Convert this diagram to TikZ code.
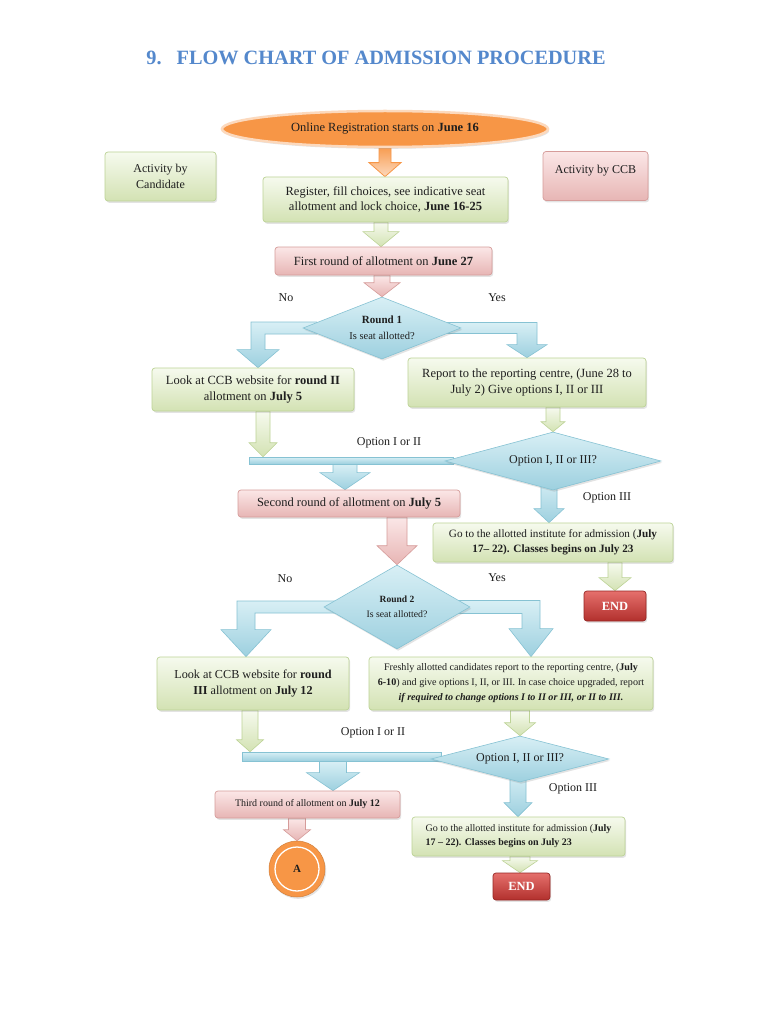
\documentclass[tikz,border=0pt]{standalone}
\usepackage{fontspec}
\setmainfont{Liberation Serif}
\usetikzlibrary{shapes.geometric,shadows,calc,backgrounds}
\definecolor{titleblue}{RGB}{84,136,204}
\definecolor{gtop}{HTML}{F6FAEE}
\definecolor{gbot}{HTML}{D3E2B3}
\definecolor{gline}{HTML}{BDD396}
\definecolor{ptop}{HTML}{FBE7E7}
\definecolor{pbot}{HTML}{E7B5B4}
\definecolor{pline}{HTML}{D69C9A}
\definecolor{btop}{HTML}{D8EFF5}
\definecolor{bbot}{HTML}{9DD0DF}
\definecolor{bline}{HTML}{86C2D3}
\definecolor{orangeC}{HTML}{F79646}
\definecolor{orangeL}{HTML}{FCD9BD}
\definecolor{etop}{HTML}{E5706C}
\definecolor{ebot}{HTML}{B2302D}
\definecolor{eline}{HTML}{962623}
\definecolor{txt}{HTML}{1E1E1E}
\newcommand\myfs[2]{\fontsize{#1}{#2}\selectfont}
% vertical block arrow: style, top point, tip point, half stem, half head, head length
\newcommand\varr[6]{\path[#1] let \p1=#2, \p2=#3 in
  (\x2-#4pt,\y1) -- (\x2+#4pt,\y1) -- (\x2+#4pt,\y2+#6pt) -- (\x2+#5pt,\y2+#6pt) -- (\x2,\y2)
  -- (\x2-#5pt,\y2+#6pt) -- (\x2-#4pt,\y2+#6pt) -- cycle;}
% L-shaped block arrow going left then down: style, start, tip, half bar, half stem, half head, head length
\newcommand\larrL[7]{\path[#1] let \p1=#2, \p2=#3 in
  (\x1,\y1+#4pt) -- (\x2-#5pt,\y1+#4pt) -- (\x2-#5pt,\y2+#7pt) -- (\x2-#6pt,\y2+#7pt) -- (\x2,\y2)
  -- (\x2+#6pt,\y2+#7pt) -- (\x2+#5pt,\y2+#7pt) -- (\x2+#5pt,\y1-#4pt) -- (\x1,\y1-#4pt) -- cycle;}
% L-shaped block arrow going right then down
\newcommand\larrR[7]{\path[#1] let \p1=#2, \p2=#3 in
  (\x1,\y1+#4pt) -- (\x2+#5pt,\y1+#4pt) -- (\x2+#5pt,\y2+#7pt) -- (\x2+#6pt,\y2+#7pt) -- (\x2,\y2)
  -- (\x2-#6pt,\y2+#7pt) -- (\x2-#5pt,\y2+#7pt) -- (\x2-#5pt,\y1-#4pt) -- (\x1,\y1-#4pt) -- cycle;}
\begin{document}
\begin{tikzpicture}[x=1pt,y=-1pt,
  font=\myfs{12.5}{15.5}, text=txt,
  shad/.style={drop shadow={opacity=0.22,shadow xshift=1.2pt,shadow yshift=-1.8pt}},
  gbox/.style={shad,draw=gline,line width=0.7pt,rounded corners=3pt,top color=gtop,bottom color=gbot,align=center,inner sep=0pt},
  pbox/.style={shad,draw=pline,line width=0.7pt,rounded corners=3pt,top color=ptop,bottom color=pbot,align=center,inner sep=0pt},
  ebox/.style={shad,draw=eline,line width=0.7pt,rounded corners=3pt,top color=etop,bottom color=ebot,inner sep=0pt,text=white,font=\bfseries\myfs{12.5}{14}},
  diam/.style={diamond,shad,draw=bline,line width=0.6pt,top color=btop,bottom color=bbot,inner sep=0pt,align=center},
  hbar/.style={rectangle,draw=bline,line width=0.5pt,top color=btop,bottom color=bbot,inner sep=0pt},
  lbl/.style={inner sep=0pt,font=\myfs{12}{14}},
  garr/.style={draw=gline,line width=0.6pt,top color=gtop,bottom color=gbot},
  barr/.style={draw=bline,line width=0.6pt,top color=btop,bottom color=bbot},
  parr/.style={draw=pline,line width=0.6pt,top color=ptop,bottom color=pbot},
  oarr/.style={draw=orangeC,line width=0.8pt,top color=orangeC,bottom color=orangeL}]
\useasboundingbox (0,0) rectangle (768,1024);

% title
\node[lbl,text=titleblue,font=\bfseries\myfs{20.3}{24}] (title) at (376,58) {9.\hspace{15pt}FLOW CHART OF ADMISSION PROCEDURE};

% top part
\node[ellipse,shad,minimum width=326pt,minimum height=36pt,fill=orangeC,draw=orangeL,line width=2.5pt,inner sep=0pt] (start) at (385,129) {Online Registration starts on \textbf{June 16}};
\node[gbox,minimum width=111pt,minimum height=49pt,font=\myfs{12}{15.5}] (cand) at (160.5,176.5) {Activity by\\Candidate};
\node[pbox,minimum width=105pt,minimum height=49pt,text depth=14pt,font=\myfs{12}{15.5}] (ccb) at (595.5,176) {Activity by CCB};
\node[gbox,minimum width=245pt,minimum height=45pt] (reg) at (385.5,199.5) {Register, fill choices, see indicative seat\\allotment and lock choice, \textbf{June 16-25}};
\node[pbox,minimum width=217pt,minimum height=28pt] (first) at (383.5,261) {First round of allotment on \textbf{June 27}};

% round 1
\node[lbl] (no1) at (286,298) {No};
\node[lbl] (yes1) at (497,298) {Yes};
\node[diam,minimum width=158pt,minimum height=62pt,aspect=2.55] (d1) at (382,328) {{\bfseries\myfs{11}{13}Round 1}\\{\myfs{10.5}{12.5}Is seat allotted?}};
\node[gbox,minimum width=202pt,minimum height=43pt] (look1) at (253,389.5) {Look at CCB website for \textbf{round II}\\allotment on \textbf{July 5}};
\node[gbox,minimum width=238pt,minimum height=49pt] (rep) at (527,382.5) {Report to the reporting centre, (June 28 to\\July 2) Give options I, II or III};
\node[lbl] (opt12a) at (389,443) {Option I or II};
\node[hbar,minimum width=204pt,minimum height=7pt] (bar1) at (351,460.5) {};
\node[diam,minimum width=216pt,minimum height=58pt,aspect=3.7,font=\myfs{12}{14}] (d2) at (553,461) {Option I, II or III?};
\node[pbox,minimum width=222pt,minimum height=27pt] (second) at (349,503.5) {Second round of allotment on \textbf{July 5}};
\node[lbl] (opt3a) at (607,498) {Option III};
\node[gbox,minimum width=240pt,minimum height=39pt,font=\myfs{11.2}{15}] (go1) at (553,542.5) {Go to the allotted institute for admission (\textbf{July}\\\textbf{17– 22). Classes begins on July 23}};
\node[ebox,minimum width=62pt,minimum height=30pt] (end1) at (615,606) {END};

% round 2
\node[lbl] (no2) at (285,579) {No};
\node[lbl] (yes2) at (497,578) {Yes};
\node[diam,minimum width=146pt,minimum height=84pt,aspect=1.74] (r2) at (397,607) {{\bfseries\myfs{9.5}{12}Round 2}\\{\myfs{9.8}{12}Is seat allotted?}};
\node[gbox,minimum width=192pt,minimum height=53pt,font=\myfs{12.2}{15.5}] (look2) at (253,683.5) {Look at CCB website for \textbf{round}\\\textbf{III} allotment on \textbf{July 12}};
\node[gbox,minimum width=284pt,minimum height=53pt,font=\myfs{10.1}{15}] (fresh) at (511,683.5) {Freshly allotted candidates report to the reporting centre, (\textbf{July}\\\textbf{6-10}) and give options I, II, or III. In case choice upgraded, report\\\textbf{\textit{if required to change options I to II or III, or II to III.}}};
\node[lbl] (opt12b) at (373,733) {Option I or II};
\node[hbar,minimum width=199pt,minimum height=9pt] (bar2) at (341.5,756.5) {};
\node[diam,minimum width=178pt,minimum height=46pt,aspect=3.87,font=\myfs{12}{14}] (d3) at (520,759) {Option I, II or III?};
\node[pbox,minimum width=185pt,minimum height=27pt,font=\myfs{10}{12}] (third) at (307.5,804.5) {Third round of allotment on \textbf{July 12}};
\node[lbl] (opt3b) at (573,789) {Option III};
\node[circle,shad,fill=orangeC,draw=orangeC!85!black,line width=0.5pt,minimum size=56pt,inner sep=0pt,font=\bfseries\myfs{11}{13}] (A) at (297,869) {A};
\draw[white,line width=1.3pt] (A.center) circle[radius=22];
\node[gbox,minimum width=213pt,minimum height=39pt,align=left,font=\myfs{10}{14}] (go2) at (518.5,836.5) {Go to the allotted institute for admission (\textbf{July}\\\textbf{17 – 22). Classes begins on July 23}};
\node[ebox,minimum width=57pt,minimum height=27pt] (end2) at (521.5,886.5) {END};

\begin{scope}[on background layer]
\fill[white] (0,0) rectangle (768,1024);
% top arrows
\varr{oarr}{($(start.south)+(0,-4)$)}{(385,0 |- reg.north)}{6}{16}{14}
\varr{garr}{(reg.south)}{(381,0 |- first.north)}{7}{18}{15}
\varr{parr}{(first.south)}{(d1.north)}{8}{18}{14}
% round 1 branches
\larrL{barr}{($(d1.west)+(14,0)$)}{(258,0 |- look1.north)}{6}{7}{21}{18}
\larrR{barr}{($(d1.east)+(-14,0)$)}{(527,0 |- rep.north)}{5.5}{10}{20}{13}
\varr{garr}{(look1.south)}{(263,0 |- bar1.north)}{7}{14}{14}
\varr{garr}{(rep.south)}{(d2.north)}{7}{12}{10}
\varr{barr}{(bar1.south)}{(345,0 |- second.north)}{12}{25}{17}
\varr{barr}{($(d2.south)+(0,-12)$)}{(549,0 |- go1.north)}{8}{15}{14}
\varr{garr}{(go1.south)}{(615,0 |- end1.north)}{7}{16}{13}
\varr{parr}{(second.south)}{(r2.north)}{10}{20}{19}
% round 2 branches
\larrL{barr}{($(r2.west)+(14,0)$)}{(246,0 |- look2.north)}{6}{9}{25}{27}
\larrR{barr}{($(r2.east)+(-14,0)$)}{(531,0 |- fresh.north)}{6.5}{9}{22}{28}
\varr{garr}{(look2.south)}{(250,0 |- bar2.north)}{8}{13.5}{12}
\varr{garr}{(fresh.south)}{(d3.north)}{9.5}{15.5}{13}
\varr{barr}{(bar2.south)}{(333,0 |- third.north)}{13.5}{26.5}{18}
\varr{barr}{($(d3.south)+(0,-10)$)}{(518,0 |- go2.north)}{8}{14}{14}
\varr{parr}{(third.south)}{(A.north)}{8.5}{13.5}{11}
\varr{garr}{(go2.south)}{(520,0 |- end2.north)}{10}{17.5}{12}
\end{scope}
\end{tikzpicture}
\end{document}
